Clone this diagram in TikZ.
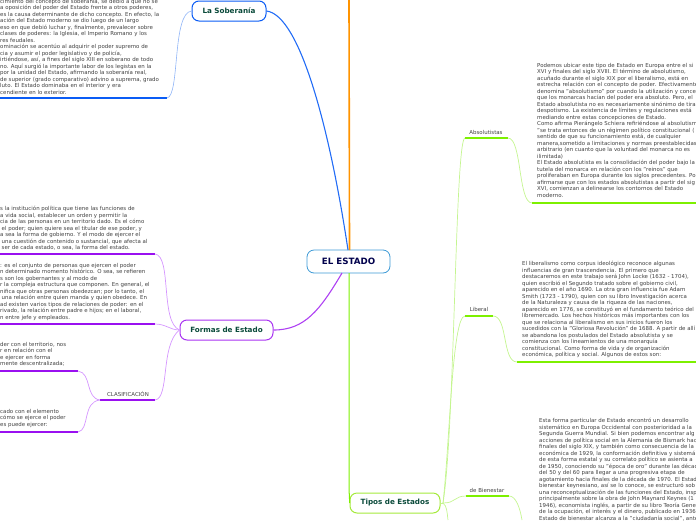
\documentclass[tikz,border=0pt]{standalone}
\usepackage{fontspec}
\setmainfont{DejaVu Sans}
\definecolor{bluedark}{HTML}{0A5CF5}
\definecolor{bluelight}{HTML}{8FB4F7}
\definecolor{skyline}{HTML}{3D9AD6}
\definecolor{purpledark}{HTML}{9A10F0}
\definecolor{purplelight}{HTML}{D596FF}
\definecolor{greendark}{HTML}{7DF000}
\definecolor{greenlight}{HTML}{C4F590}
\definecolor{greenframe}{HTML}{A5EA3C}
\definecolor{labeltext}{HTML}{0A4A3A}
\tikzset{
  maintopic/.style={draw=#1,line width=1pt,fill=white,rounded corners=7pt,inner sep=0pt,
    text=labeltext,font=\fontsize{7.2}{9}\selectfont\bfseries,align=center},
  notetext/.style={anchor=north west,inner sep=0pt,align=left,text=black!75,
    font=\fontsize{5.45}{6.5}\selectfont},
  subtopic/.style={inner sep=0pt,text=black!75,font=\fontsize{5.45}{6.5}\selectfont},
}
\begin{document}
\begin{tikzpicture}[x=1pt,y=-1pt]
  \useasboundingbox (0,0) rectangle (696,520);
  \clip (0,0) rectangle (696,520);

  % main topics
  \node[maintopic=skyline,line width=0.8pt,minimum width=83pt,minimum height=23pt,text=blue!30!black,
    font=\fontsize{8.7}{10}\selectfont\bfseries] (estado) at (348.5,261.5) {EL ESTADO};
  \node[maintopic=bluedark,minimum width=74pt,minimum height=20pt] (soberania) at (229,11) {La Soberanía};
  \node[maintopic=purpledark!85,minimum width=93pt,minimum height=20pt] (formas) at (226.5,330) {Formas de Estado};
  \node[maintopic=greenframe,minimum width=90pt,minimum height=20pt] (tipos) at (395,503) {Tipos de Estados};

  \coordinate (arriba) at (349,0);
  \coordinate (ovalNorth) at (348,250);

  % lines into the centre
  \draw[orange!85!yellow,line width=1.6pt] (arriba) -- (349.5,250);
  \draw[bluedark!90,line width=1.1pt] (soberania.east) .. controls (300,15) and (330,130) .. (ovalNorth);
  \draw[purpledark!80,line width=1.1pt] (formas.east) .. controls (305,330) and (320,310) .. (342,273);
  \draw[greendark,line width=1pt] (349,273) -- (349,480) .. controls (349,497) and (350,503) .. (tipos.west);

  % left notes
  \node[notetext] (notaSoberania) at (0,-1.5) {cimiento del concepto de soberanía, se debió a que no se\\
a oposición del poder del Estado frente a otros poderes,\\
es la causa determinante de dicho concepto. En efecto, la\\
ación del Estado moderno se dio luego de un largo\\
eso en que debió luchar y, finalmente, prevalecer sobre\\
clases de poderes: la Iglesia, el Imperio Romano y los\\
res feudales.\\
ominación se acentúo al adquirir el poder supremo de\\
cia y asumir el poder legislativo y de policía,\\
irtiéndose, así, a fines del siglo XIII en soberano de todo\\
no. Aquí surgió la importante labor de los legistas en la\\
 por la unidad del Estado, afirmando la soberanía real,\\
de superior (grado comparativo) advino a suprema, grado\\
luto. El Estado dominaba en el interior y era\\
cendiente en lo exterior.};
  \coordinate (finSoberania) at (167,98);
  \draw[bluedark,line width=1.2pt] (0,98) -- (finSoberania);
  \draw[bluelight,line width=0.6pt] (finSoberania) .. controls (180,96) and (172,13) .. (soberania.west);

  \node[notetext] (notaForma) at (0,206) {s la institución política que tiene las funciones de\\
a vida social, establecer un orden y permitir la\\
cia de las personas en un territorio dado. Es el cómo\\
\hspace{1.5pt}el poder; quien quiere sea el titular de ese poder, y\\
a sea la forma de gobierno. Y el modo de ejercer el\\
\hspace{1.5pt}una cuestión de contenido o sustancial, que afecta al\\
\hspace{1.5pt}ser de cada estado, o sea, la forma del estado.};
  \coordinate (finForma) at (155,254);
  \draw[purpledark,line width=1.2pt] (0,254) -- (finForma);
  \draw[purplelight,line width=0.7pt] (finForma) .. controls (172,256) and (160,322) .. (formas.west);

  \node[notetext] (notaGobierno) at (0,263) {: es el conjunto de personas que ejercen el poder\\
n determinado momento histórico. O sea, se refieren\\
s son los gobernantes y al modo de\\
r la compleja estructura que componen. En general, el\\
nifica que otras personas obedezcan; por lo tanto, el\\
\hspace{1.5pt}una relación entre quien manda y quien obedece. En\\
ad existen varios tipos de relaciones de poder: en el\\
rivado, la relación entre padre e hijos; en el laboral,\\
n entre jefe y empleados.};
  \coordinate (finGobierno) at (155,324);
  \draw[purpledark,line width=1.2pt] (0,324) -- (finGobierno);
  \draw[purplelight,line width=0.7pt] (finGobierno) .. controls (166,324) and (170,330) .. (formas.west);

  % clasificacion
  \node[subtopic] (clasificacion) at (128,394) {CLASIFICACIÓN};
  \coordinate (clasIzq) at (100,400);
  \coordinate (clasDer) at (155,400);
  \draw[purpledark,line width=1.2pt] (clasIzq) -- (clasDer);
  \draw[purplelight,line width=0.7pt] (clasDer) .. controls (170,398) and (160,345) .. (formas.west);

  \node[notetext] (notaTerritorio) at (0,342) {der con el territorio, nos\\
r en relación con el\\
e ejercer en forma\\
mente descentralizada;};
  \coordinate (finTerritorio) at (78,371);
  \draw[purpledark,line width=1.2pt] (0,371) -- (finTerritorio);
  \draw[purplelight,line width=0.7pt] (finTerritorio) .. controls (92,373) and (85,398) .. (clasIzq);

  \node[notetext] (notaPoder) at (0,409) {cado con el elemento\\
cómo se ejerce el poder\\
es puede ejercer:};
  \coordinate (finPoder) at (78,432);
  \draw[purpledark,line width=1.2pt] (0,432) -- (finPoder);
  \draw[purplelight,line width=0.7pt] (finPoder) .. controls (90,430) and (82,402) .. (clasIzq);

  % right branches
  \coordinate (salida) at (443,503);

  \node[subtopic] (absolutistas) at (486,132) {Absolutistas};
  \coordinate (absIzq) at (465,138);
  \coordinate (absDer) at (508,138);
  \draw[greendark,line width=1.2pt] (absIzq) -- (absDer);
  \draw[greenlight,line width=0.7pt] (salida) .. controls (455,430) and (455,138) .. (absIzq);
  \node[notetext] (notaAbs) at (537,63) {Podemos ubicar este tipo de Estado en Europa entre el si\\
XVI y finales del siglo XVIII. El término de absolutismo,\\
acuñado durante el siglo XIX por el liberalismo, está en\\
estrecha relación con el concepto de poder. Efectivamente\\
denomina "absolutismo" por cuando la utilización y conce\\
que los monarcas hacían del poder era absoluto. Pero, el\\
Estado absolutista no es necesariamente sinónimo de tira\\
despotismo. La existencia de límites y regulaciones está\\
mediando entre estas concepciones de Estado.\\
Como afirma Pierángelo Schiera refiriéndose al absolutism\\
"se trata entonces de un régimen político constitucional (\\
sentido de que su funcionamiento está, de cualquier\\
manera,sometido a limitaciones y normas preestablecidas\\
arbitrario (en cuanto que la voluntad del monarca no es\\
ilimitada)\\
El Estado absolutista es la consolidación del poder bajo la\\
tutela del monarca en relación con los "reinos" que\\
proliferaban en Europa durante los siglos precedentes. Po\\
afirmarse que con los estados absolutistas a partir del sig\\
XVI, comienzan a delinearse los contornos del Estado\\
moderno.};
  \coordinate (finAbs) at (532,203);
  \draw[greendark,line width=1.2pt] (finAbs) -- (696,203);
  \draw[greenlight,line width=0.7pt] (absDer) .. controls (522,138) and (518,203) .. (finAbs);

  \node[subtopic] (liberal) at (479,309) {Liberal};
  \coordinate (libIzq) at (465,316);
  \coordinate (libDer) at (493,316);
  \draw[greendark,line width=1.2pt] (libIzq) -- (libDer);
  \draw[greenlight,line width=0.7pt] (salida) .. controls (450,440) and (452,316) .. (libIzq);
  \node[notetext] (notaLib) at (522,261) {El liberalismo como corpus ideológico reconoce algunas\\
influencias de gran trascendencia. El primero que\\
destacaremos en este trabajo será John Locke (1632 - 1704),\\
quien escribió el Segundo tratado sobre el gobierno civil,\\
aparecido en el año 1690. La otra gran influencia fue Adam\\
Smith (1723 - 1790), quien con su libro Investigación acerca\\
de la Naturaleza y causa de la riqueza de las naciones,\\
aparecido en 1776, se constituyó en el fundamento teórico del\\
libremercado. Los hechos históricos más importantes con los\\
que se relaciona al liberalismo en sus inicios fueron los\\
sucedidos con la "Gloriosa Revolución" de 1688. A partir de allí\\
se abandona los postulados del Estado absolutista y se\\
comienza con los lineamientos de una monarquía\\
constitucional. Como forma de vida y de organización\\
económica, política y social. Algunos de estos son:};
  \coordinate (finLib) at (517,362);
  \draw[greendark,line width=1.2pt] (finLib) -- (696,362);
  \draw[greenlight,line width=0.7pt] (libDer) .. controls (508,316) and (502,362) .. (finLib);

  \node[subtopic] (bienestar) at (487,490) {de Bienestar};
  \coordinate (bieIzq) at (466,496);
  \coordinate (bieDer) at (509,496);
  \coordinate (bieAbajo) at (522,520);
  \coordinate (tipoAbajo) at (448,520);
  \draw[greendark,line width=1.2pt] (bieIzq) -- (bieDer);
  \draw[greenlight,line width=0.7pt] (salida) .. controls (456,503) and (454,496) .. (bieIzq);
  \draw[greenlight,line width=0.7pt] (bieDer) .. controls (516,496) and (520,508) .. (bieAbajo);
  \draw[greenlight,line width=0.7pt] (salida) .. controls (447,506) and (447,512) .. (tipoAbajo);
  \draw[greenlight,line width=0.7pt] (tipos.east) -- (salida);
  \node[notetext] (notaBie) at (539,418) {Esta forma particular de Estado encontró un desarrollo\\
sistemático en Europa Occidental con posterioridad a la\\
Segunda Guerra Mundial. Si bien podemos encontrar alg\\
acciones de política social en la Alemania de Bismark hac\\
finales del siglo XIX, y también como consecuencia de la\\
económica de 1929, la conformación definitiva y sistemá\\
de esta forma estatal y su correlato político se asienta a\\
de 1950, conociendo su "época de oro" durante las décad\\
del 50 y del 60 para llegar a una progresiva etapa de\\
agotamiento hacia finales de la década de 1970. El Estad\\
bienestar keynesiano, así se lo conoce, se estructuró sob\\
una reconceptualización de las funciones del Estado, insp\\
principalmente sobre la obra de John Maynard Keynes (1\\
1946), economista inglés, a partir de su libro Teoría Gene\\
de la ocupación, el interés y el dinero, publicado en 1936\\
Estado de bienestar alcanza a la "ciudadanía social", ante};
\end{tikzpicture}
\end{document}
